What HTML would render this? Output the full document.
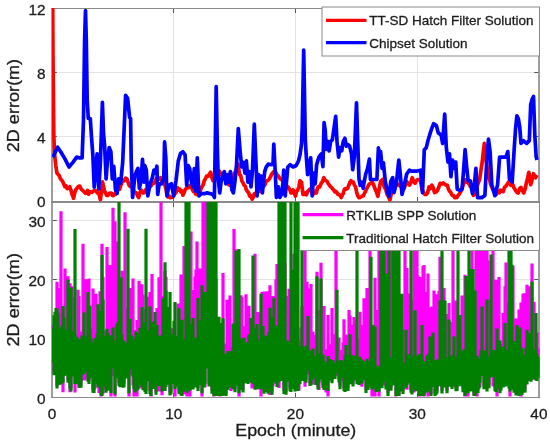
<!DOCTYPE html><html><head><meta charset="utf-8"><style>html,body{margin:0;padding:0;background:#fff;overflow:hidden}svg{display:block}text{font-family:"Liberation Sans",Arial,sans-serif;fill:#1c1c1c;stroke:#1c1c1c;stroke-width:0.3px}</style></head><body>
<svg width="550" height="446" viewBox="0 0 550 446">
<rect width="550" height="446" fill="#fff"/>
<defs><clipPath id="c1"><rect x="52.0" y="8.0" width="488.0" height="193.5"/></clipPath>
<clipPath id="c2"><rect x="52.0" y="202.0" width="488.0" height="195.5"/></clipPath></defs>
<path d="M173.5 8.5V201.5M173.5 202.5V397.5M295.5 8.5V201.5M295.5 202.5V397.5M417.5 8.5V201.5M417.5 202.5V397.5M52.5 136.5H539.5M52.5 72.5H539.5M52.5 338.5H539.5M52.5 279.5H539.5M52.5 220.5H539.5" stroke="#e3e3e3" stroke-width="1" fill="none"/>
<path d="M51.2 8.5H539.8M51.2 201.5H539.8M51.2 202.5H539.8M51.2 397.5H539.8" stroke="#8a8a8a" stroke-width="1" fill="none"/>
<path d="M52.0 8.0V202.0M539.0 8.0V202.0M52.0 202.0V398.0M539.0 202.0V398.0" stroke="#858585" stroke-width="1.6" fill="none"/>
<path d="M173.5 201.0v-4M173.5 9.0v4M295.5 201.0v-4M295.5 9.0v4M417.5 201.0v-4M417.5 9.0v4M173.5 397.0v-4M173.5 203.0v4M295.5 397.0v-4M295.5 203.0v4M417.5 397.0v-4M417.5 203.0v4M52.8 136.5h4M538.2 136.5h-4M52.8 72.5h4M538.2 72.5h-4M52.8 338.5h4M538.2 338.5h-4M52.8 279.5h4M538.2 279.5h-4M52.8 220.5h4M538.2 220.5h-4" stroke="#555" stroke-width="1" fill="none"/>
<g clip-path="url(#c1)" fill="none" stroke-width="3.7" stroke-linejoin="round" stroke-linecap="butt">
<path d="M52.7 8.0 53.0 60.0 53.8 135.0 54.6 154.8 55.8 165.5 56.9 173.1 58.0 174.3 59.1 175.4 60.7 179.2 62.2 180.7 63.7 183.8 64.8 186.5 66.0 186.0 67.2 188.6 68.3 188.3 69.8 186.8 70.9 190.0 72.1 194.4 73.6 198.2 75.1 191.4 76.2 189.1 77.4 187.6 78.6 186.2 79.7 186.0 80.8 188.6 82.0 189.9 83.2 190.9 84.3 192.1 85.4 193.4 86.6 192.9 87.6 190.4 88.6 194.2 89.6 192.1 90.6 191.8 91.7 192.4 92.7 191.4 93.7 191.0 94.7 190.4 95.7 190.6 96.7 192.0 97.8 193.2 98.8 193.0 100.4 199.7 101.5 190.8 102.5 181.9 103.5 186.4 104.6 191.3 105.7 193.2 106.7 195.5 108.0 195.3 109.2 193.4 110.2 193.1 111.3 193.0 112.3 195.5 113.3 195.6 114.4 194.0 115.4 194.4 116.5 188.4 117.5 187.1 118.5 187.2 119.6 189.2 120.7 185.5 121.7 183.0 123.0 180.5 124.2 180.9 125.6 178.1 126.9 178.8 128.0 182.0 129.0 185.1 130.0 186.3 131.0 185.3 132.0 187.1 133.1 188.5 134.1 191.4 135.2 192.6 136.4 192.9 137.6 196.1 138.7 197.5 139.8 193.3 141.0 189.9 142.1 192.1 143.2 192.9 144.3 192.7 145.5 189.9 146.7 188.9 147.8 188.3 148.9 186.6 150.1 186.8 151.2 185.7 152.4 183.8 153.4 183.1 154.4 183.1 155.4 180.7 156.4 178.7 157.5 178.9 158.5 179.2 159.5 178.4 160.5 177.6 161.5 179.9 162.5 181.4 163.6 183.1 164.6 183.8 165.8 188.2 166.9 194.4 168.0 196.9 169.1 196.0 170.2 197.7 171.4 197.5 172.6 197.1 173.7 195.2 174.7 193.9 175.8 192.8 176.8 189.9 177.8 188.0 178.8 190.1 179.8 189.1 180.8 191.9 181.9 191.0 182.9 195.2 184.0 193.0 185.1 189.9 186.2 188.4 187.4 187.6 188.4 187.8 189.5 185.5 190.5 185.3 191.5 187.3 192.5 189.8 193.5 191.4 194.5 191.3 195.6 194.1 196.6 194.4 197.6 193.8 198.6 194.0 199.6 192.9 200.8 189.2 201.9 186.8 203.1 185.1 204.2 180.7 205.3 179.1 206.5 176.1 208.3 176.1 209.4 174.0 210.6 172.3 211.8 177.3 212.9 180.7 214.0 179.9 215.1 176.1 216.2 176.7 217.4 173.1 218.6 170.5 219.7 171.6 220.8 174.2 222.0 174.6 223.2 177.5 224.3 179.2 225.3 179.6 226.3 179.0 227.3 180.7 228.4 184.5 229.6 185.3 230.8 181.5 231.9 180.7 233.1 177.6 234.2 173.1 235.3 172.4 236.5 168.5 238.0 164.0 239.5 174.6 240.7 175.7 241.8 180.7 242.9 182.6 244.1 185.3 245.2 186.0 246.4 189.9 247.6 191.7 248.7 192.9 249.8 196.3 251.0 196.0 252.1 199.2 253.2 197.5 254.3 193.8 255.5 194.4 256.6 191.5 257.8 189.9 259.0 191.5 260.1 191.4 261.2 190.2 262.4 185.3 263.5 185.8 264.7 185.3 265.9 182.1 267.0 180.7 268.1 180.3 269.2 179.2 270.4 176.9 271.5 174.6 272.6 172.9 273.8 171.6 275.0 171.5 276.1 173.1 277.2 175.1 278.4 176.1 279.5 178.0 280.7 179.2 281.9 179.8 283.0 180.7 284.1 182.0 285.2 183.8 286.3 188.3 287.5 186.4 288.6 187.6 289.8 189.7 290.9 192.9 292.0 192.8 293.1 189.9 294.2 192.7 295.4 196.0 296.5 191.2 297.7 189.9 298.9 186.9 300.0 180.7 301.5 182.2 303.0 194.4 304.1 194.3 305.3 192.9 306.5 194.7 307.6 191.4 308.8 190.3 309.9 189.1 311.0 190.4 312.2 192.9 313.2 190.7 314.2 193.5 315.2 191.4 316.4 192.9 317.5 188.3 318.6 186.6 319.8 186.8 321.0 183.7 322.1 182.2 323.9 177.7 324.9 179.9 325.9 180.7 327.0 181.3 328.2 183.8 329.4 185.0 330.5 186.8 331.6 187.5 332.8 189.1 333.8 190.1 334.8 191.9 335.8 191.4 336.8 192.4 337.9 194.5 338.9 194.4 340.0 195.4 341.1 197.5 342.2 195.6 343.4 192.9 344.4 189.1 345.5 188.6 346.5 189.1 347.6 188.2 348.8 185.3 349.9 182.3 351.0 180.7 352.1 182.1 353.3 182.2 354.5 185.2 355.6 186.8 356.8 193.0 357.9 196.0 359.0 197.7 360.2 197.5 362.0 196.3 363.4 195.7 364.8 192.6 366.2 189.7 367.6 187.0 369.0 184.3 370.4 183.3 372.2 182.3 373.6 184.7 375.0 188.8 376.4 192.0 377.8 196.3 379.2 188.9 380.6 181.4 382.5 179.5 384.3 187.0 385.7 189.3 387.1 194.4 388.5 196.5 389.9 200.0 391.3 193.5 392.7 187.0 394.1 184.1 395.5 181.4 396.9 183.6 398.3 185.1 399.7 185.6 401.1 187.0 402.5 185.6 403.9 188.8 405.3 185.0 406.7 181.4 408.0 183.5 409.4 185.1 410.8 182.7 412.2 177.7 413.6 181.2 415.0 183.3 416.4 180.6 417.8 179.5 419.2 179.6 420.6 181.4 422.0 189.4 423.4 192.6 424.8 194.4 426.2 194.4 427.6 192.9 429.0 187.0 430.4 188.6 431.8 185.1 433.2 187.9 434.6 192.6 436.0 192.1 437.3 190.7 438.7 187.5 440.1 183.3 441.1 183.9 442.2 183.8 443.2 183.0 444.2 183.9 445.3 184.6 446.3 185.1 447.4 185.4 448.4 189.0 449.5 191.3 450.5 191.8 451.6 194.3 452.6 195.5 453.6 195.6 454.7 197.6 455.7 197.6 456.8 197.5 457.8 195.8 458.9 194.4 459.9 193.0 461.0 191.0 462.0 189.2 463.0 185.5 464.1 182.7 465.1 179.8 466.1 180.3 467.2 182.4 468.2 183.0 469.3 184.4 470.3 186.4 471.4 187.1 472.4 189.7 473.4 195.5 474.5 194.5 475.5 190.4 476.6 189.2 477.6 184.9 478.7 182.0 479.7 178.8 480.9 170.4 482.2 162.1 483.2 152.8 484.3 143.4 485.4 152.8 486.4 162.1 487.4 169.4 488.5 176.7 489.6 180.0 490.8 184.7 492.1 187.8 493.5 190.2 494.9 191.6 496.3 194.3 497.3 192.0 498.4 191.2 499.4 192.8 500.4 190.2 501.8 191.0 503.2 191.6 504.5 187.4 505.9 186.1 507.3 184.0 508.7 181.9 509.7 180.7 510.8 185.4 511.8 182.2 512.8 184.7 514.1 188.0 515.5 190.2 516.9 192.3 518.3 193.0 519.6 188.5 521.0 187.4 522.4 190.6 523.8 193.0 525.2 188.6 526.6 181.9 527.7 177.7 528.8 172.3 530.7 184.7 532.1 179.5 533.5 173.7 535.4 177.8 537.0 175.0" stroke="#ff0000"/>
<path d="M52.5 157.0 53.5 156.0 57.6 147.2 60.7 151.8 65.2 159.4 69.0 167.0 72.9 162.4 76.7 157.1 80.0 158.0 82.1 158.0 83.5 120.0 84.6 40.0 85.5 10.5 86.3 40.0 87.2 100.0 88.3 118.5 90.3 118.5 91.5 137.0 92.9 155.9 94.2 187.1 95.6 170.5 97.1 153.8 98.8 189.2 100.4 162.1 102.4 102.3 103.6 135.0 104.6 145.4 106.1 178.8 107.5 160.0 109.2 147.5 110.9 151.7 112.3 178.8 113.8 166.3 115.4 189.2 117.1 193.4 118.6 178.8 120.7 183.0 122.7 162.1 125.6 95.3 127.6 98.3 129.6 117.5 130.6 118.5 131.2 160.0 132.6 197.5 134.9 176.1 136.4 171.6 137.9 168.5 139.4 188.3 141.0 180.7 142.5 159.4 144.0 182.2 144.8 165.5 146.3 170.0 147.8 196.0 150.1 183.8 152.4 177.7 153.9 170.0 155.4 173.1 156.9 166.2 157.7 194.4 159.2 183.8 161.5 183.8 163.8 177.7 164.6 141.9 165.8 157.9 166.9 196.0 169.1 185.3 171.4 183.8 173.7 196.0 176.0 180.7 178.3 160.9 180.6 153.3 182.9 151.8 185.1 154.8 186.7 185.3 188.2 165.5 189.7 168.5 191.2 180.7 192.8 186.8 194.3 168.5 195.8 191.4 197.3 157.9 198.9 196.0 201.1 193.7 204.2 193.7 207.2 192.9 210.6 193.7 212.9 194.4 214.4 197.5 216.2 86.7 217.4 150.0 218.2 177.7 219.7 192.9 221.2 180.7 222.8 174.6 224.3 171.6 225.8 183.8 227.3 174.6 228.9 182.2 230.4 171.6 231.9 189.9 233.4 192.9 235.0 180.7 236.5 165.5 238.3 128.7 240.3 153.3 241.8 167.0 243.3 162.4 244.9 173.1 246.4 160.9 247.9 182.2 249.4 171.6 251.0 186.8 252.5 170.0 254.3 124.1 256.3 170.0 257.0 196.0 258.6 174.6 260.1 188.3 261.2 176.1 262.4 192.9 264.7 171.6 266.2 167.0 268.5 164.0 271.5 164.7 273.0 164.0 273.8 144.1 275.3 173.1 276.4 197.5 278.4 186.8 279.9 197.5 282.2 192.9 283.7 170.0 285.2 196.0 287.8 167.0 290.1 164.7 293.1 167.0 296.2 165.5 298.5 160.9 300.0 154.8 301.5 144.1 302.2 128.0 303.7 50.1 305.3 140.0 306.1 153.3 307.6 174.6 309.1 165.5 310.7 157.9 312.2 196.0 313.7 173.1 315.2 183.8 316.6 165.0 318.9 157.1 321.3 154.0 322.9 166.6 324.1 122.6 325.2 130.4 326.3 149.3 327.6 141.4 329.1 150.9 330.7 141.4 332.3 139.9 333.9 128.9 335.7 116.3 337.0 141.4 338.6 157.1 340.1 147.7 341.7 150.9 343.3 141.4 344.9 138.3 346.4 146.1 348.0 144.6 349.6 146.1 351.5 154.0 352.7 169.7 354.3 157.1 356.5 102.8 357.7 141.4 359.0 179.1 360.2 185.3 361.7 182.2 363.2 188.3 363.9 183.3 365.7 174.0 367.6 168.4 369.4 159.1 370.4 179.5 373.2 179.5 376.9 179.5 378.4 147.9 379.7 157.2 380.6 151.6 382.1 168.4 383.4 162.8 385.3 181.4 387.1 190.7 389.0 196.3 390.8 181.4 392.7 177.7 394.0 192.6 396.4 183.3 398.8 160.0 400.1 172.1 402.0 194.4 403.9 187.0 406.7 174.0 409.4 170.2 411.3 171.2 416.0 171.2 420.6 170.2 422.5 192.6 424.3 149.8 426.2 147.9 428.0 140.5 430.8 131.2 433.6 123.7 436.4 125.6 438.3 133.0 441.1 134.9 442.6 143.4 444.7 114.2 446.3 147.5 448.0 162.1 449.5 153.8 450.9 176.7 452.6 160.0 454.3 168.4 455.7 162.1 457.2 189.2 459.9 190.3 462.0 189.2 463.4 172.6 465.1 149.6 466.8 168.4 468.2 180.9 470.3 180.9 472.4 193.4 474.5 183.0 475.9 168.4 477.6 197.6 481.8 197.6 484.9 195.5 487.0 155.9 488.5 139.2 490.1 151.7 491.8 184.7 494.9 195.7 497.6 184.7 499.6 157.1 505.9 157.1 507.8 151.6 509.5 179.2 512.2 181.9 514.2 148.9 515.5 129.6 516.9 115.8 518.3 118.6 519.7 126.8 521.0 143.4 523.3 140.6 526.6 143.4 529.3 140.6 530.7 104.8 532.1 99.3 533.5 96.5 534.8 135.1 536.2 157.1 537.0 159.9" stroke="#0000ff"/>
</g>
<g clip-path="url(#c2)" fill="none" stroke-width="3.2" stroke-linecap="butt">
<path d="M53.0 359.3V326.0M54.0 372.3V325.0M55.0 366.5V328.5M56.0 357.7V321.2M57.0 385.6V281.8M58.0 373.7V324.1M59.0 381.9V288.1M60.0 365.7V310.4M61.0 381.4V211.2M62.0 368.7V318.9M63.0 392.2V321.2M64.0 373.0V309.6M65.0 372.4V268.4M66.0 362.7V333.2M67.0 364.8V292.8M68.0 379.7V276.2M69.0 381.1V330.4M70.0 392.3V283.2M71.0 388.4V333.1M72.0 373.5V286.3M73.0 374.9V326.0M74.0 372.9V297.0M75.0 392.4V338.4M76.0 378.2V336.4M77.0 383.5V334.2M78.0 380.7V289.7M79.0 384.9V296.1M80.0 369.7V331.5M81.0 384.7V340.3M82.0 378.9V334.8M83.0 380.2V243.7M84.0 371.1V337.1M85.0 380.6V339.0M86.0 367.9V279.3M87.0 360.2V280.8M88.0 378.8V343.6M89.0 381.0V278.5M90.0 371.1V345.1M91.0 360.5V336.6M92.0 375.1V327.7M93.0 389.8V288.6M94.0 390.0V313.3M95.0 388.8V313.6M96.0 371.1V293.7M97.0 374.2V314.2M98.0 384.5V330.3M99.0 393.1V345.9M100.0 382.3V291.2M101.0 396.5V296.6M102.0 394.6V243.7M103.0 393.4V276.8M104.0 383.3V341.3M105.0 370.5V330.5M106.0 389.8V345.3M107.0 370.8V247.0M108.0 387.8V300.5M109.0 382.4V341.8M110.0 376.9V265.0M111.0 396.5V274.2M112.0 365.5V275.0M113.0 375.7V207.8M114.0 376.2V339.7M115.0 396.5V221.3M116.0 375.3V265.4M117.0 373.6V241.5M118.0 363.7V345.6M119.0 382.9V334.0M120.0 384.2V307.8M121.0 365.4V301.9M122.0 380.0V270.7M123.0 384.8V291.1M124.0 384.2V340.9M125.0 371.8V212.3M126.0 375.5V308.6M127.0 369.1V337.5M128.0 367.4V336.5M129.0 396.5V333.7M130.0 375.4V288.1M131.0 366.6V331.2M132.0 365.2V329.8M133.0 385.6V278.5M134.0 396.5V331.7M135.0 396.5V330.1M136.0 370.2V330.0M137.0 396.5V320.0M138.0 386.7V331.4M139.0 381.0V280.7M140.0 388.5V327.9M141.0 381.7V326.7M142.0 384.0V284.2M143.0 387.2V294.4M144.0 378.5V326.5M145.0 389.0V309.0M146.0 391.1V325.7M147.0 379.8V296.8M148.0 373.2V312.0M149.0 378.2V342.4M150.0 390.9V292.0M151.0 396.5V327.4M152.0 367.1V274.0M153.0 365.6V332.6M154.0 385.9V327.4M155.0 385.4V333.0M156.0 391.7V315.2M157.0 382.7V308.1M158.0 383.5V330.9M159.0 391.6V277.3M160.0 370.1V340.5M161.0 365.3V195.0M162.0 395.2V295.9M163.0 376.0V329.4M164.0 383.8V335.4M165.0 388.0V271.0M166.0 384.1V277.0M167.0 381.7V333.2M168.0 366.7V331.6M169.0 372.3V313.0M170.0 392.4V328.4M171.0 391.2V332.7M172.0 368.9V345.2M173.0 380.7V328.3M174.0 379.5V341.4M175.0 396.5V342.9M176.0 372.3V336.0M177.0 383.5V339.7M178.0 383.2V303.4M179.0 391.1V340.8M180.0 377.6V341.8M181.0 392.5V274.6M182.0 394.2V337.9M183.0 384.0V346.3M184.0 373.9V246.0M185.0 394.6V324.1M186.0 387.3V341.0M187.0 396.5V333.7M188.0 378.8V284.5M189.0 371.5V340.1M190.0 396.5V324.5M191.0 378.1V231.4M192.0 377.3V304.7M193.0 386.4V289.9M194.0 377.5V308.9M195.0 382.7V276.5M196.0 384.4V269.5M197.0 372.8V241.5M198.0 388.0V274.9M199.0 382.0V324.9M200.0 375.9V268.6M201.0 380.7V345.9M202.0 396.5V282.4M203.0 366.3V195.0M204.0 384.5V313.2M205.0 387.3V195.0M206.0 365.0V195.0M207.0 362.6V265.0M208.0 365.6V329.6M209.0 383.6V345.3M210.0 375.0V347.4M211.0 378.3V267.8M212.0 390.7V271.6M213.0 367.7V336.7M214.0 396.5V227.0M215.0 383.0V331.5M216.0 393.1V278.8M217.0 393.9V342.9M218.0 396.0V339.1M219.0 371.8V349.1M220.0 396.4V341.7M221.0 373.3V354.0M222.0 395.1V347.0M223.0 390.6V272.9M224.0 392.4V343.6M225.0 367.1V350.9M226.0 393.9V343.8M227.0 371.0V299.8M228.0 386.9V338.8M229.0 364.7V346.7M230.0 380.2V295.5M231.0 391.0V354.2M232.0 379.2V347.5M233.0 386.2V356.4M234.0 380.5V229.1M235.0 389.2V356.7M236.0 373.2V249.3M237.0 376.2V330.0M238.0 383.2V338.8M239.0 396.5V350.0M240.0 362.4V331.3M241.0 386.9V295.3M242.0 382.0V297.3M243.0 389.4V333.8M244.0 380.5V336.2M245.0 379.5V326.3M246.0 376.5V294.2M247.0 380.0V334.1M248.0 381.0V306.0M249.0 366.0V305.7M250.0 379.8V332.7M251.0 378.7V344.9M252.0 388.4V337.0M253.0 380.7V339.2M254.0 381.3V309.0M255.0 386.8V253.8M256.0 382.5V332.6M257.0 389.5V329.4M258.0 386.0V312.0M259.0 370.5V331.6M260.0 386.2V313.5M261.0 396.5V318.3M262.0 385.5V291.9M263.0 373.8V296.6M264.0 390.8V291.5M265.0 373.8V297.7M266.0 368.0V339.8M267.0 389.0V291.3M268.0 390.8V348.0M269.0 385.7V347.5M270.0 395.1V285.2M271.0 395.1V331.4M272.0 391.7V339.7M273.0 386.3V296.1M274.0 365.8V341.8M275.0 368.7V332.8M276.0 380.8V279.3M277.0 384.1V263.9M278.0 364.8V329.8M279.0 388.0V332.7M280.0 377.9V335.7M281.0 378.0V321.6M282.0 377.6V312.6M283.0 377.2V344.9M284.0 390.9V340.8M285.0 387.7V262.8M286.0 391.8V295.9M287.0 372.3V296.8M288.0 362.6V347.4M289.0 378.8V288.7M290.0 388.3V323.4M291.0 389.0V339.5M292.0 381.8V337.6M293.0 382.5V336.9M294.0 386.1V253.8M295.0 388.4V334.7M296.0 375.0V337.8M297.0 368.7V348.7M298.0 387.9V339.4M299.0 390.5V340.1M300.0 380.9V353.3M301.0 376.1V327.6M302.0 374.1V306.3M303.0 378.0V339.9M304.0 363.1V334.0M305.0 386.8V225.0M306.0 379.7V320.4M307.0 367.5V281.8M308.0 364.1V292.9M309.0 374.8V290.2M310.0 383.0V288.4M311.0 382.3V284.0M312.0 384.2V344.0M313.0 359.0V331.5M314.0 384.8V339.8M315.0 383.1V358.9M316.0 382.1V334.9M317.0 360.4V271.7M318.0 386.5V309.9M319.0 390.0V349.5M320.0 376.6V336.5M321.0 371.4V262.8M322.0 371.8V365.5M323.0 384.9V334.8M324.0 387.1V305.9M325.0 363.7V352.9M326.0 392.4V367.6M327.0 385.5V349.2M328.0 396.5V315.1M329.0 381.5V344.2M330.0 366.8V359.0M331.0 377.3V347.2M332.0 380.3V308.0M333.0 373.4V334.2M334.0 367.1V365.0M335.0 376.1V364.1M336.0 376.2V225.0M337.0 364.2V354.2M338.0 370.3V355.5M339.0 379.5V337.4M340.0 386.2V367.9M341.0 381.3V350.1M342.0 369.1V354.2M343.0 363.0V342.5M344.0 387.9V319.2M345.0 388.9V334.8M346.0 384.5V365.6M347.0 368.1V356.4M348.0 388.0V334.4M349.0 381.8V310.1M350.0 381.3V315.3M351.0 356.4V325.0M352.0 377.4V355.9M353.0 383.4V354.1M354.0 364.3V317.1M355.0 377.2V319.7M356.0 374.6V366.1M357.0 381.2V339.0M358.0 377.2V365.6M359.0 382.0V356.7M360.0 379.5V311.7M361.0 385.6V360.8M362.0 386.7V325.1M363.0 372.7V335.5M364.0 370.6V298.3M365.0 377.2V336.3M366.0 390.1V301.7M367.0 362.5V288.1M368.0 387.0V366.1M369.0 384.5V347.2M370.0 381.5V225.0M371.0 379.7V364.1M372.0 396.5V355.1M373.0 385.3V360.0M374.0 381.2V363.1M375.0 396.5V277.7M376.0 389.0V310.1M377.0 386.7V366.8M378.0 387.0V318.0M379.0 396.5V225.0M380.0 382.1V290.2M381.0 384.0V352.0M382.0 385.2V322.3M383.0 385.6V360.1M384.0 372.4V342.0M385.0 379.2V308.4M386.0 386.4V225.0M387.0 367.3V225.0M388.0 392.9V365.8M389.0 374.2V361.0M390.0 386.6V261.2M391.0 387.8V225.0M392.0 374.4V356.9M393.0 382.5V298.4M394.0 368.7V299.1M395.0 373.3V287.1M396.0 396.5V273.0M397.0 386.6V302.1M398.0 377.3V281.5M399.0 394.6V342.8M400.0 383.9V363.8M401.0 376.6V350.5M402.0 388.4V330.0M403.0 391.0V359.9M404.0 386.1V349.5M405.0 384.3V225.0M406.0 384.8V355.8M407.0 389.7V268.0M408.0 368.8V339.2M409.0 380.2V361.3M410.0 378.9V293.6M411.0 389.7V330.4M412.0 391.5V311.4M413.0 376.8V299.8M414.0 392.6V225.0M415.0 367.3V225.0M416.0 388.3V335.5M417.0 382.2V225.0M418.0 382.2V275.6M419.0 396.2V348.3M420.0 396.5V343.7M421.0 388.5V277.0M422.0 395.3V358.7M423.0 391.2V266.1M424.0 396.5V265.1M425.0 390.3V307.8M426.0 386.7V292.0M427.0 389.2V302.4M428.0 396.5V273.6M429.0 384.5V307.2M430.0 378.5V355.2M431.0 393.9V357.1M432.0 363.8V306.5M433.0 384.0V345.3M434.0 366.6V290.4M435.0 393.6V346.6M436.0 391.9V297.5M437.0 390.6V294.3M438.0 376.5V326.2M439.0 383.3V290.8M440.0 379.2V256.8M441.0 386.3V334.0M442.0 390.5V365.5M443.0 383.8V367.5M444.0 384.4V287.9M445.0 382.0V340.6M446.0 372.9V338.0M447.0 390.3V314.0M448.0 372.1V361.2M449.0 381.5V303.1M450.0 383.8V360.5M451.0 382.2V321.9M452.0 385.9V353.4M453.0 383.9V225.0M454.0 383.7V360.1M455.0 382.6V351.4M456.0 388.3V300.4M457.0 388.0V351.3M458.0 378.8V337.7M459.0 380.2V360.2M460.0 383.3V353.0M461.0 372.6V318.3M462.0 374.2V295.5M463.0 389.3V334.2M464.0 363.3V317.7M465.0 396.5V274.8M466.0 380.6V300.4M467.0 389.0V305.8M468.0 396.5V354.8M469.0 386.1V360.3M470.0 384.1V344.7M471.0 388.4V343.9M472.0 381.1V225.0M473.0 370.7V355.4M474.0 394.5V296.5M475.0 392.7V357.1M476.0 384.6V225.0M477.0 396.5V292.9M478.0 390.1V225.0M479.0 385.7V259.0M480.0 387.6V288.4M481.0 369.7V225.0M482.0 367.8V348.3M483.0 373.0V225.0M484.0 386.3V303.0M485.0 369.2V225.0M486.0 376.3V256.4M487.0 388.6V225.0M488.0 363.8V260.4M489.0 385.2V358.8M490.0 374.8V299.8M491.0 374.0V322.6M492.0 363.9V357.7M493.0 386.6V225.0M494.0 359.8V343.8M495.0 388.3V358.3M496.0 389.1V279.8M497.0 396.5V289.3M498.0 378.1V345.3M499.0 381.6V277.0M500.0 390.2V343.9M501.0 387.6V347.8M502.0 380.5V344.5M503.0 384.5V312.9M504.0 374.3V352.0M505.0 383.8V286.3M506.0 375.7V262.4M507.0 374.7V302.2M508.0 383.1V328.4M509.0 385.5V355.5M510.0 396.5V355.0M511.0 386.5V331.8M512.0 385.4V352.4M513.0 385.6V265.8M514.0 389.7V331.0M515.0 391.7V343.8M516.0 392.4V318.5M517.0 371.3V323.9M518.0 392.3V352.8M519.0 394.2V309.5M520.0 394.9V357.1M521.0 396.5V302.5M522.0 391.9V357.0M523.0 384.7V293.8M524.0 389.8V293.2M525.0 389.5V330.2M526.0 375.2V357.7M527.0 381.5V284.8M528.0 374.0V293.6M529.0 378.0V287.0M530.0 376.3V286.3M531.0 378.7V302.2M532.0 375.5V263.5M533.0 380.1V349.3M534.0 375.9V301.8M535.0 361.4V344.7M536.0 377.4V343.3M537.0 377.9V332.5M538.0 375.3V348.6" stroke="#ff00ff"/>
<path d="M53.0 362.3V328.8M54.0 375.3V315.2M55.0 369.5V311.7M56.0 360.7V308.0M57.0 388.6V308.8M58.0 376.7V312.9M59.0 384.9V328.4M60.0 368.7V331.4M61.0 384.4V331.0M62.0 371.7V325.6M63.0 382.8V305.9M64.0 376.0V317.6M65.0 375.4V329.5M66.0 365.7V330.1M67.0 367.8V335.7M68.0 382.7V279.6M69.0 376.5V335.3M70.0 388.7V299.0M71.0 391.4V287.4M72.0 376.5V341.2M73.0 368.3V336.8M74.0 375.9V331.4M75.0 383.9V229.1M76.0 381.2V344.6M77.0 377.6V337.1M78.0 383.7V342.4M79.0 387.9V339.3M80.0 372.7V346.9M81.0 387.7V347.3M82.0 370.0V335.5M83.0 374.5V348.2M84.0 374.1V312.5M85.0 371.9V336.3M86.0 364.1V341.9M87.0 363.2V336.2M88.0 381.8V292.0M89.0 384.0V317.3M90.0 374.1V305.8M91.0 363.5V338.6M92.0 378.1V342.5M93.0 392.8V345.1M94.0 393.0V346.3M95.0 383.8V338.2M96.0 374.1V341.2M97.0 370.4V333.7M98.0 387.5V304.3M99.0 385.0V345.6M100.0 385.3V311.0M101.0 394.8V344.1M102.0 396.0V255.0M103.0 385.8V299.5M104.0 386.3V342.7M105.0 373.5V336.5M106.0 392.8V344.6M107.0 373.8V328.8M108.0 390.8V333.1M109.0 385.4V343.0M110.0 379.9V339.4M111.0 393.1V335.4M112.0 368.5V339.9M113.0 367.5V327.5M114.0 366.2V340.5M115.0 394.6V343.1M116.0 378.3V344.9M117.0 376.6V324.0M118.0 366.7V321.8M119.0 385.9V195.0M120.0 387.2V339.5M121.0 368.4V277.4M122.0 383.0V334.6M123.0 387.8V344.7M124.0 387.2V340.8M125.0 374.8V344.7M126.0 378.5V343.2M127.0 372.1V344.1M128.0 370.4V228.7M129.0 393.2V341.4M130.0 366.3V318.9M131.0 369.6V335.4M132.0 368.2V336.2M133.0 376.7V339.4M134.0 388.9V339.9M135.0 392.5V343.9M136.0 373.2V331.6M137.0 390.5V333.8M138.0 389.7V336.1M139.0 384.0V341.8M140.0 384.9V327.7M141.0 384.7V337.6M142.0 387.0V307.2M143.0 390.2V325.3M144.0 381.5V322.3M145.0 392.0V331.3M146.0 394.1V228.7M147.0 373.7V341.1M148.0 376.2V337.5M149.0 381.2V330.2M150.0 393.9V306.4M151.0 396.0V334.3M152.0 370.1V336.8M153.0 368.6V322.8M154.0 388.9V321.1M155.0 380.6V312.0M156.0 394.7V334.5M157.0 385.7V324.9M158.0 377.5V340.4M159.0 386.0V338.4M160.0 373.1V335.4M161.0 368.3V340.3M162.0 391.6V336.4M163.0 379.0V298.2M164.0 386.8V334.3M165.0 391.0V262.3M166.0 387.1V290.8M167.0 384.7V307.0M168.0 369.7V343.1M169.0 375.3V340.3M170.0 395.4V292.0M171.0 394.2V334.2M172.0 365.4V343.3M173.0 383.7V334.0M174.0 382.5V320.7M175.0 389.0V302.0M176.0 375.3V337.6M177.0 386.5V335.7M178.0 386.2V345.6M179.0 394.1V308.2M180.0 380.6V335.7M181.0 395.5V327.0M182.0 396.0V319.7M183.0 387.0V339.2M184.0 376.9V342.3M185.0 391.6V345.7M186.0 390.3V195.0M187.0 392.7V323.9M188.0 381.8V195.0M189.0 374.5V195.0M190.0 390.4V324.3M191.0 381.1V334.8M192.0 380.3V340.4M193.0 389.4V318.1M194.0 380.5V339.0M195.0 385.7V337.5M196.0 387.4V341.5M197.0 362.9V338.7M198.0 391.0V297.9M199.0 385.0V321.1M200.0 378.9V338.1M201.0 383.7V336.7M202.0 393.3V285.2M203.0 369.3V339.5M204.0 387.5V347.8M205.0 384.3V291.9M206.0 368.0V300.0M207.0 365.6V340.6M208.0 368.6V195.0M209.0 386.6V195.0M210.0 378.0V293.8M211.0 374.5V195.0M212.0 393.7V340.7M213.0 370.7V195.0M214.0 396.0V195.0M215.0 386.0V323.7M216.0 396.0V195.0M217.0 396.0V330.8M218.0 396.0V354.9M219.0 374.8V316.7M220.0 396.0V346.3M221.0 376.3V355.0M222.0 396.0V322.9M223.0 393.6V318.2M224.0 395.4V359.8M225.0 370.1V354.2M226.0 396.0V353.8M227.0 374.0V359.5M228.0 389.9V351.1M229.0 367.7V360.5M230.0 375.9V359.0M231.0 387.6V351.7M232.0 382.2V350.7M233.0 389.2V323.6M234.0 383.5V357.4M235.0 392.2V323.9M236.0 376.2V250.4M237.0 379.2V354.9M238.0 386.2V303.0M239.0 393.2V248.9M240.0 365.4V350.2M241.0 389.9V340.2M242.0 385.0V338.4M243.0 392.4V344.4M244.0 383.5V337.8M245.0 382.5V342.8M246.0 379.5V345.0M247.0 383.0V343.7M248.0 384.0V342.3M249.0 369.0V334.5M250.0 382.8V336.5M251.0 381.7V318.0M252.0 379.0V334.4M253.0 383.7V255.6M254.0 372.9V328.3M255.0 389.8V345.0M256.0 385.5V335.1M257.0 384.7V324.1M258.0 389.0V340.4M259.0 373.5V342.9M260.0 389.2V346.0M261.0 388.9V293.7M262.0 388.5V338.9M263.0 376.8V326.1M264.0 393.8V343.8M265.0 376.8V347.5M266.0 371.0V335.5M267.0 392.0V345.5M268.0 393.8V337.6M269.0 377.0V331.8M270.0 389.8V307.8M271.0 391.2V343.2M272.0 394.7V317.2M273.0 382.4V344.1M274.0 368.8V297.8M275.0 371.7V344.3M276.0 383.8V328.8M277.0 387.1V325.7M278.0 367.8V339.4M279.0 382.1V195.0M280.0 369.1V195.0M281.0 381.0V195.0M282.0 380.6V336.6M283.0 380.2V195.0M284.0 393.9V338.6M285.0 390.7V195.0M286.0 394.8V346.7M287.0 368.8V340.4M288.0 365.6V344.3M289.0 381.8V348.7M290.0 391.3V341.7M291.0 392.0V195.0M292.0 384.8V343.8M293.0 385.5V326.3M294.0 389.1V270.0M295.0 391.4V195.0M296.0 378.0V324.1M297.0 371.7V195.0M298.0 390.9V195.0M299.0 384.5V348.7M300.0 383.9V352.2M301.0 379.1V345.9M302.0 377.1V225.0M303.0 381.0V345.9M304.0 366.1V350.0M305.0 381.3V352.7M306.0 382.7V346.7M307.0 370.5V345.3M308.0 367.1V316.1M309.0 365.5V356.1M310.0 386.0V354.4M311.0 385.3V350.4M312.0 380.1V355.2M313.0 362.0V348.4M314.0 377.3V356.6M315.0 377.8V355.9M316.0 385.1V356.9M317.0 363.4V276.2M318.0 389.5V353.2M319.0 382.5V360.4M320.0 379.6V357.7M321.0 374.4V278.5M322.0 374.8V357.5M323.0 387.9V354.4M324.0 390.1V360.9M325.0 366.7V362.6M326.0 383.6V366.7M327.0 388.5V366.4M328.0 391.0V356.1M329.0 372.5V365.5M330.0 369.8V359.0M331.0 380.3V365.1M332.0 383.3V361.1M333.0 376.4V360.3M334.0 362.0V362.6M335.0 379.1V363.4M336.0 371.2V365.5M337.0 367.2V289.7M338.0 373.3V365.1M339.0 382.5V361.2M340.0 389.2V364.8M341.0 377.4V360.0M342.0 372.1V363.4M343.0 366.0V361.3M344.0 390.9V362.6M345.0 391.9V354.9M346.0 379.7V345.0M347.0 371.1V356.9M348.0 391.0V358.7M349.0 378.0V354.7M350.0 384.3V334.2M351.0 359.4V365.3M352.0 380.4V358.5M353.0 386.4V355.3M354.0 367.3V362.0M355.0 380.2V356.0M356.0 377.6V366.1M357.0 384.2V225.0M358.0 380.2V359.5M359.0 385.0V361.3M360.0 382.5V356.7M361.0 377.1V359.8M362.0 383.4V359.4M363.0 375.7V365.4M364.0 366.2V369.1M365.0 380.2V361.1M366.0 393.1V366.9M367.0 365.5V358.7M368.0 390.0V364.6M369.0 387.5V362.8M370.0 384.5V361.2M371.0 382.7V256.8M372.0 389.5V367.3M373.0 388.3V325.0M374.0 384.2V361.7M375.0 388.5V326.7M376.0 392.0V370.7M377.0 389.7V365.6M378.0 390.0V369.1M379.0 391.7V370.2M380.0 385.1V366.7M381.0 387.0V225.0M382.0 388.2V359.9M383.0 380.0V225.0M384.0 375.4V225.0M385.0 382.2V368.1M386.0 389.4V359.8M387.0 370.3V273.6M388.0 395.9V356.1M389.0 377.2V225.0M390.0 389.6V361.0M391.0 390.8V365.3M392.0 377.4V357.6M393.0 385.5V225.0M394.0 371.7V330.5M395.0 376.3V225.0M396.0 396.0V355.3M397.0 389.6V225.0M398.0 380.3V225.0M399.0 396.0V225.0M400.0 386.9V354.0M401.0 368.0V358.6M402.0 391.4V293.8M403.0 394.0V362.9M404.0 389.1V363.1M405.0 387.3V364.7M406.0 387.8V329.7M407.0 384.7V360.6M408.0 371.8V354.6M409.0 383.2V362.9M410.0 381.9V361.9M411.0 392.7V225.0M412.0 394.5V361.3M413.0 368.4V363.0M414.0 389.5V356.1M415.0 370.3V310.6M416.0 391.3V358.9M417.0 385.2V356.7M418.0 385.2V356.6M419.0 396.0V354.2M420.0 396.0V358.8M421.0 391.5V357.4M422.0 396.0V325.0M423.0 394.2V363.2M424.0 396.0V361.0M425.0 393.3V361.3M426.0 389.7V365.3M427.0 392.2V355.3M428.0 391.1V358.9M429.0 387.5V353.6M430.0 381.5V336.4M431.0 396.0V365.3M432.0 366.8V354.3M433.0 387.0V332.6M434.0 369.6V364.8M435.0 396.0V360.5M436.0 394.9V364.6M437.0 393.6V360.1M438.0 369.6V359.2M439.0 386.3V361.4M440.0 372.5V300.5M441.0 379.1V359.1M442.0 393.5V225.0M443.0 386.8V368.3M444.0 387.4V360.0M445.0 385.0V300.5M446.0 375.9V367.9M447.0 393.3V357.5M448.0 368.2V367.8M449.0 384.5V319.6M450.0 386.8V363.3M451.0 378.8V359.8M452.0 388.9V356.6M453.0 378.5V355.0M454.0 386.7V336.4M455.0 385.6V357.1M456.0 391.3V357.3M457.0 391.0V363.6M458.0 372.0V225.0M459.0 383.2V363.6M460.0 386.3V315.0M461.0 375.6V351.7M462.0 369.5V356.6M463.0 392.3V351.4M464.0 366.3V349.5M465.0 396.0V361.1M466.0 383.6V275.9M467.0 392.0V350.9M468.0 393.3V349.9M469.0 389.1V225.0M470.0 387.1V354.6M471.0 391.4V269.0M472.0 384.1V358.0M473.0 373.7V269.0M474.0 396.0V359.4M475.0 395.7V290.4M476.0 387.6V356.6M477.0 391.6V355.8M478.0 393.1V358.8M479.0 388.7V362.7M480.0 382.7V360.1M481.0 372.7V350.6M482.0 370.8V306.5M483.0 376.0V352.6M484.0 389.3V350.6M485.0 372.2V351.7M486.0 379.3V352.2M487.0 391.6V299.4M488.0 366.8V358.1M489.0 388.2V359.1M490.0 377.8V356.4M491.0 377.0V254.6M492.0 366.9V351.9M493.0 377.1V352.2M494.0 362.8V350.0M495.0 391.3V351.5M496.0 392.1V355.7M497.0 388.2V328.6M498.0 381.1V349.1M499.0 384.6V351.7M500.0 393.2V340.4M501.0 390.6V353.6M502.0 383.5V354.9M503.0 387.5V347.1M504.0 377.3V348.2M505.0 386.8V323.0M506.0 372.4V349.7M507.0 377.7V356.4M508.0 386.1V359.4M509.0 388.5V225.0M510.0 391.4V347.2M511.0 389.5V225.0M512.0 388.4V264.7M513.0 388.6V359.6M514.0 392.7V341.3M515.0 387.0V352.0M516.0 395.4V352.4M517.0 374.3V325.0M518.0 386.9V358.9M519.0 396.0V352.1M520.0 391.7V327.4M521.0 393.1V347.4M522.0 394.9V349.1M523.0 387.7V358.1M524.0 392.8V355.1M525.0 392.5V359.7M526.0 378.2V347.4M527.0 384.5V329.7M528.0 377.0V356.8M529.0 381.0V333.3M530.0 379.3V347.8M531.0 381.7V352.4M532.0 378.5V281.5M533.0 376.9V356.0M534.0 378.9V353.0M535.0 364.4V349.8M536.0 380.4V312.9M537.0 380.9V353.8M538.0 378.3V357.1" stroke="#008000"/>
</g>
<rect x="322.0" y="7.0" width="217.5" height="49.0" fill="#fff" stroke="#8a8a8a" stroke-width="1"/>
<path d="M326.0 20.3H366.5" stroke="#ff0000" stroke-width="3.2"/>
<text x="369.2" y="25.1" font-size="13.5">TT-SD Hatch Filter Solution</text>
<path d="M326.0 42.7H366.5" stroke="#0000ff" stroke-width="3.2"/>
<text x="369.2" y="47.5" font-size="13.5">Chipset Solution</text>
<rect x="299.5" y="202.5" width="240.0" height="48.0" fill="#fff" stroke="#8a8a8a" stroke-width="1"/>
<path d="M302.6 214.7H343.4" stroke="#ff00ff" stroke-width="3.2"/>
<text x="346.2" y="220.0" font-size="13.5">RTKLIB SPP Solution</text>
<path d="M302.6 237.6H343.4" stroke="#008000" stroke-width="3.2"/>
<text x="346.2" y="242.8" font-size="13.5">Traditional Hatch Filter Solution</text>
<text x="45.6" y="207.0" font-size="15.4" text-anchor="end">0</text>
<text x="45.6" y="143.0" font-size="15.4" text-anchor="end">4</text>
<text x="45.6" y="79.0" font-size="15.4" text-anchor="end">8</text>
<text x="45.6" y="15.0" font-size="15.4" text-anchor="end">12</text>
<text x="45.6" y="404.0" font-size="15.4" text-anchor="end">0</text>
<text x="45.6" y="344.9" font-size="15.4" text-anchor="end">10</text>
<text x="45.6" y="285.8" font-size="15.4" text-anchor="end">20</text>
<text x="45.6" y="226.7" font-size="15.4" text-anchor="end">30</text>
<text x="52.0" y="419.2" font-size="15.4" text-anchor="middle">0</text>
<text x="173.7" y="419.2" font-size="15.4" text-anchor="middle">10</text>
<text x="295.4" y="419.2" font-size="15.4" text-anchor="middle">20</text>
<text x="417.2" y="419.2" font-size="15.4" text-anchor="middle">30</text>
<text x="538.9" y="419.2" font-size="15.4" text-anchor="middle">40</text>
<text x="295.8" y="436.4" font-size="17" text-anchor="middle" textLength="121" lengthAdjust="spacingAndGlyphs">Epoch (minute)</text>
<text transform="translate(19.4 105.6) rotate(-90)" x="0" y="0" font-size="16.3" text-anchor="middle" textLength="93.4" lengthAdjust="spacingAndGlyphs">2D error(m)</text>
<text transform="translate(19.4 299.8) rotate(-90)" x="0" y="0" font-size="16.3" text-anchor="middle" textLength="93.4" lengthAdjust="spacingAndGlyphs">2D error(m)</text>
</svg></body></html>
